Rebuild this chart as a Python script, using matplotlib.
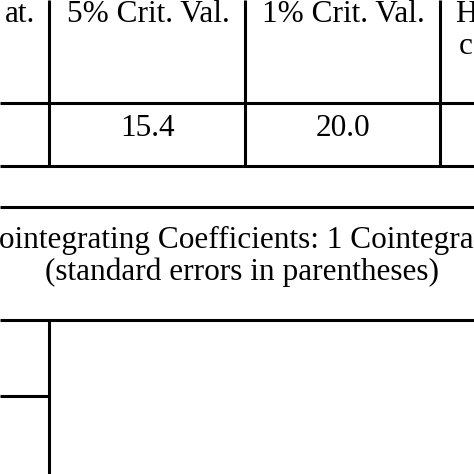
import matplotlib
matplotlib.use("Agg")
import matplotlib.pyplot as plt

header_labels = ["at.", "5% Crit. Val.", "1% Crit. Val.", "H"]
header_x = [20, 148, 343, 466]
row_values = ["15.4", "20.0"]
row_x = [148, 343]
title_lines = ["Cointegrating Coefficients: 1 Cointegrating", "(standard errors in parentheses)"]

fig = plt.figure(figsize=(4.74, 4.74), dpi=100)
ax = fig.add_axes([0, 0, 1, 1])
ax.set_xlim(0, 474); ax.set_ylim(474, 0); ax.axis("off")
plt.rcParams['font.family'] = ['Liberation Serif', 'DejaVu Serif']
lw = 2.2
k = dict(color="black", lw=lw, solid_capstyle="butt")
for x in [49, 245, 440]:
    ax.plot([x, x], [0, 166], **k)
ax.plot([49, 49], [320, 474], **k)
for y in [103, 166, 207, 320]:
    ax.plot([0, 474], [y, y], **k)
ax.plot([0, 49], [396, 396], **k)

fs = 22.5
for lab, x in zip(header_labels, header_x):
    ax.text(x, 14, lab, ha="center", va="center", fontsize=fs)
ax.text(466, 46, "c", ha="center", va="center", fontsize=fs)
for v, x in zip(row_values, row_x):
    ax.text(x, 128, v, ha="center", va="center", fontsize=fs)
ax.text(250, 240, title_lines[0], ha="center", va="center", fontsize=fs)
ax.text(242, 272, title_lines[1], ha="center", va="center", fontsize=fs)
fig.savefig("out.png", dpi=100)
